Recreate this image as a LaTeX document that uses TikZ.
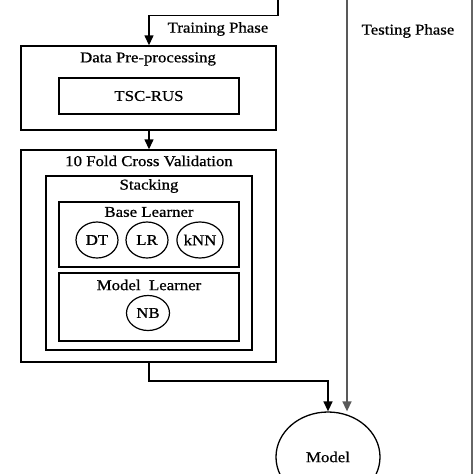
\documentclass[tikz,border=0pt]{standalone}
\usepackage{fontspec}
\setmainfont[FakeStretch=1.12,FakeBold=0.8]{Liberation Serif}
\usetikzlibrary{arrows.meta,shapes.geometric}
\begin{document}
\begin{tikzpicture}[x=1pt,y=-1pt,
  every node/.style={font=\fontsize{15}{17}\selectfont},
  box/.style={draw,line width=1.4pt,inner sep=0pt,minimum width=#1},
  oval/.style={draw,ellipse,line width=1.2pt,inner sep=0pt,minimum width=42pt,minimum height=36pt},
  ttl/.style={inner sep=0pt},
  conn/.style={line width=1.4pt,-{Triangle[length=10pt,width=9pt]}},
  gconn/.style={line width=1.5pt,draw=black!65,-{Triangle[length=10pt,width=9pt]}}]
\useasboundingbox (0,0) rectangle (474,474);
% boxes
\node[box=255pt,minimum height=84pt] (data) at (148.5,88) {};
\node[box=180pt,minimum height=36pt] (tsc) at (149,96) {TSC-RUS};
\node[box=255pt,minimum height=212pt] (cv) at (148.5,256) {};
\node[box=206pt,minimum height=174pt] (stack) at (149,263) {};
\node[box=180pt,minimum height=65pt] (base) at (149,234.5) {};
\node[box=180pt,minimum height=68pt] (ml) at (149,307) {};
% titles
\node[ttl] (tdata) at (148,59) {Data Pre-processing};
\node[ttl] (tcv) at (149,161) {10 Fold Cross Validation};
\node[ttl] (tstack) at (149,186) {Stacking};
\node[ttl] (tbase) at (149,212) {Base Learner};
\node[ttl] (tml) at (149,285) {Model\ \ Learner};
% learners
\node[oval] (dt) at (97,240) {DT};
\node[oval] (lr) at (147,240) {LR};
\node[oval,minimum width=44pt] (knn) at (200,240) {kNN};
\node[oval,minimum width=43pt,minimum height=35pt] (nb) at (148,313) {NB};
% model
\node[draw,ellipse,line width=1.3pt,minimum width=104pt,minimum height=90pt,inner sep=0pt] (model) at (328,457) {Model};
% phase labels
\node[ttl] (train) at (218,29) {Training Phase};
\node[ttl] (test) at (408,31) {Testing Phase};
% connectors
\coordinate (src) at (278,0);
\coordinate (tsrc) at (347,0);
\draw[conn] (src) -- (278,15.7) -- (149,15.7) -- (data.north -| 149,0);
\draw[conn] (data.south -| 149,0) -- (cv.north -| 149,0);
\draw[conn] (cv.south -| 149,0) -- (149,381) -- (328,381) -- (model.north);
\draw[gconn] (tsrc) -- (tsrc |- model.north);
% right border
\draw[line width=2pt,draw=black!60] (472,0) -- (472,474);
\end{tikzpicture}
\end{document}
